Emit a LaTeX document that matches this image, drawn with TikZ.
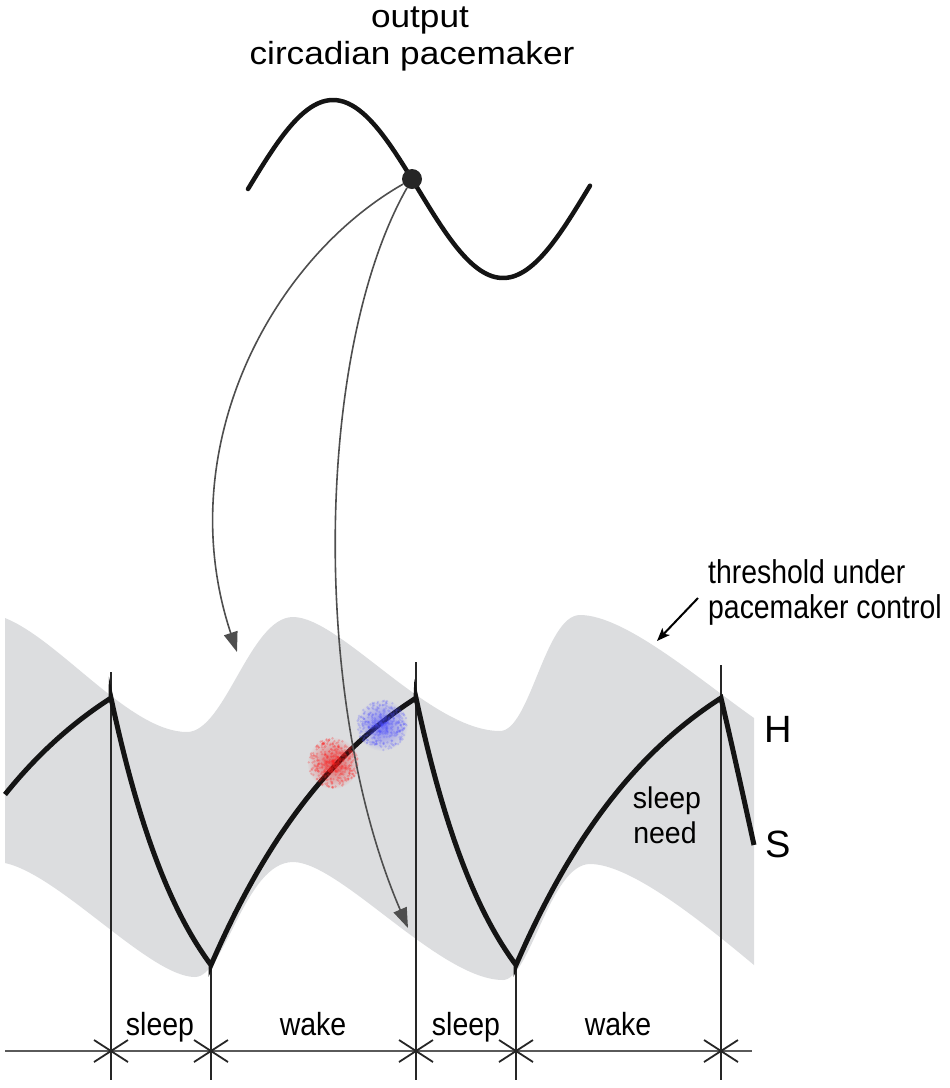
\documentclass[tikz,border=0pt]{standalone}
\usepackage{fontspec}
\setmainfont{Liberation Sans}
\usepackage{graphicx}
\usetikzlibrary{arrows.meta,fadings}
\definecolor{bandgray}{HTML}{DCDDDF}
\definecolor{arrgray}{HTML}{4E4E4E}
\definecolor{axisgray}{HTML}{5A5A5A}
\tikzfading[name=blobfade, inner color=transparent!40, outer color=transparent!100]
\newcommand{\sx}[2]{\scalebox{#1}[1]{#2}}
\begin{document}
\begin{tikzpicture}[x=1pt,y=-1pt,
  lbl/.style={inner sep=0pt, anchor=base},
  garrow/.style={draw=arrgray, line width=1.6pt, -{Triangle[length=20pt,width=14pt]}, arrgray},
  vline/.style={draw=black!85, line width=1.8pt},
  xmark/.style={draw=black!85, line width=1.8pt},
  hcurve/.style={draw=black!92, line width=5pt, line join=miter, miter limit=20},
  blob/.style={path fading=blobfade}
]
\useasboundingbox (0,0) rectangle (950,1088);

% gray threshold band
\fill[bandgray] (5,618) .. controls (60,640) and (130,732) .. (187,732)
  .. controls (225,732) and (250,617) .. (293,617)
  .. controls (340,617) and (430,731) .. (500,731)
  .. controls (530,731) and (545,615) .. (580,615)
  .. controls (625,615) and (700,680) .. (754,718)
  -- (754,965)
  .. controls (700,920) and (630,864) .. (590,864)
  .. controls (550,864) and (530,980) .. (503,980)
  .. controls (440,980) and (340,862) .. (293,862)
  .. controls (245,862) and (225,977) .. (195,977)
  .. controls (150,977) and (60,875) .. (5,863) -- cycle;

% vertical lines
\coordinate (v1t) at (111,672); \coordinate (v1b) at (111,1080);
\coordinate (v2t) at (211,965); \coordinate (v2b) at (211,1080);
\coordinate (v3t) at (416,662); \coordinate (v3b) at (416,1080);
\coordinate (v4t) at (516,965); \coordinate (v4b) at (516,1080);
\coordinate (v5t) at (721,665); \coordinate (v5b) at (721,1080);
\foreach \i in {1,...,5} { \draw[vline] (v\i t) -- (v\i b); }

% time axis
\coordinate (axL) at (5,1051); \coordinate (axR) at (752,1051);
\draw[draw=axisgray, line width=2.6pt] (axL) -- (axR);
\foreach \xx in {111,211,416,516,721} {
  \draw[xmark] (\xx-17,1040) -- (\xx+17,1062);
  \draw[xmark] (\xx-17,1062) -- (\xx+17,1040);
}

% process S curve
\draw[hcurve]
  plot[domain=5:111, samples=40] (\x, {965-267*(1-exp(-(\x+94)/160))/0.72231})
  -- plot[domain=111:211, samples=40] (\x, {698+267*(1-exp(-(\x-111)/80))/0.71350})
  -- plot[domain=211:416, samples=60] (\x, {965-267*(1-exp(-(\x-211)/160))/0.72231})
  -- plot[domain=416:516, samples=40] (\x, {698+267*(1-exp(-(\x-416)/80))/0.71350})
  -- plot[domain=516:721, samples=60] (\x, {965-267*(1-exp(-(\x-516)/160))/0.72231})
  .. controls (732,745) and (743,795) .. (754,845);

% red / blue blobs (soft core plus speckles)
\fill[red!90!black, blob] (333,763) circle[radius=26pt];
\fill[blue!75, blob] (382,725) circle[radius=26pt];
\pgfmathsetseed{17}
\foreach \k in {1,...,420} {
  \pgfmathsetmacro{\rr}{25*pow(rnd,0.75)}
  \pgfmathsetmacro{\aa}{360*rnd}
  \fill[red!85, opacity=0.28] ({333+\rr*cos(\aa)},{763+\rr*sin(\aa)}) circle[radius=1.3pt];
}
\foreach \k in {1,...,420} {
  \pgfmathsetmacro{\rr}{25*pow(rnd,0.75)}
  \pgfmathsetmacro{\aa}{360*rnd}
  \fill[blue!70, opacity=0.22] ({382+\rr*cos(\aa)},{725+\rr*sin(\aa)}) circle[radius=1.3pt];
}

% circadian pacemaker sine
\draw[line width=4.5pt, black!92, line cap=round] plot[domain=248:590, samples=120, smooth] (\x, {189-89*sin((\x-248)/340*360)});
\node[circle, fill=black!85, inner sep=0pt, minimum size=20pt] (dot) at (412,179) {};

% gray arrows from pacemaker
\coordinate (tipA) at (237,652);
\coordinate (tipB) at (408,928);
\draw[garrow] (dot) .. controls (270,260) and (170,450) .. (tipA);
\draw[garrow] (dot) .. controls (315,350) and (310,700) .. (tipB);

% texts
\node[lbl] (t1) at (420,27) {\fontsize{32}{36}\selectfont\sx{1.1}{output}};
\node[lbl] (t2) at (412,64) {\fontsize{32}{36}\selectfont\sx{1.1}{circadian pacemaker}};

\node[lbl, anchor=base west] (th1) at (708,583) {\fontsize{33}{36}\selectfont\sx{0.86}{threshold under}};
\node[lbl, anchor=base west] (th2) at (708,618) {\fontsize{33}{36}\selectfont\sx{0.86}{pacemaker control}};
\coordinate (thstart) at (698,598);
\coordinate (thtip) at (657,641);
\draw[line width=2pt, -{Stealth[length=13pt,width=10pt,inset=3pt]}] (thstart) -- (thtip);

\node[lbl] (sn1) at (667,808) {\fontsize{30}{36}\selectfont\sx{0.95}{sleep}};
\node[lbl] (sn2) at (665,843) {\fontsize{30}{36}\selectfont\sx{0.95}{need}};

\node[lbl] (H) at (778,742) {\fontsize{38}{40}\selectfont H};
\node[lbl] (S) at (778,857) {\fontsize{38}{40}\selectfont S};

\node[lbl] (sl1) at (160,1035) {\fontsize{32}{36}\selectfont\sx{0.89}{sleep}};
\node[lbl] (wk1) at (313,1035) {\fontsize{32}{36}\selectfont\sx{0.89}{wake}};
\node[lbl] (sl2) at (466,1035) {\fontsize{32}{36}\selectfont\sx{0.89}{sleep}};
\node[lbl] (wk2) at (618,1035) {\fontsize{32}{36}\selectfont\sx{0.89}{wake}};
\end{tikzpicture}
\end{document}
